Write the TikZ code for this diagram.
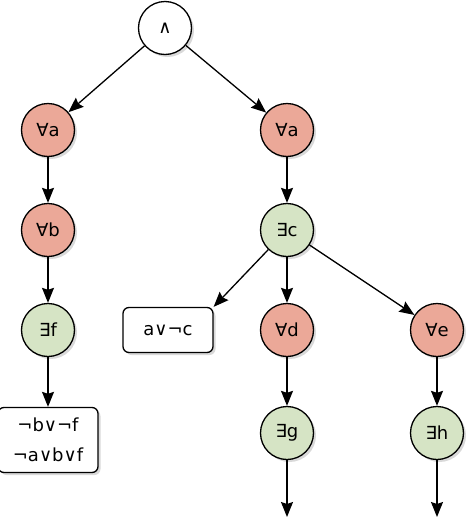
\documentclass[tikz,border=0pt]{standalone}
\usepackage{fontspec}
\setmainfont{DejaVu Sans}
\usetikzlibrary{arrows.meta,shadows}
\definecolor{redfill}{HTML}{EBA898}
\definecolor{greenfill}{HTML}{D6E4C5}
\tikzset{
  circ/.style={circle, draw=black, line width=1.3pt, minimum size=53pt, inner sep=0pt, font=\fontsize{18}{20}\selectfont,
    drop shadow={shadow xshift=2.5pt, shadow yshift=-2.5pt, opacity=0.3}},
  rnode/.style={circ, fill=redfill},
  gnode/.style={circ, fill=greenfill},
  wnode/.style={circ, fill=white},
  boxn/.style={rectangle, rounded corners=6pt, draw=black, line width=1.3pt, fill=white, font=\fontsize{18}{20}\selectfont,
    align=center, drop shadow={shadow xshift=2.5pt, shadow yshift=-2.5pt, opacity=0.3}},
  conn/.style={line width=1.3pt, -{Stealth[length=15pt,width=12pt,inset=2pt]}}
}
\begin{document}
\begin{tikzpicture}[x=1pt,y=-1pt]
\useasboundingbox (0,0) rectangle (474,517);
\node[wnode] (and) at (165,28) {∧};
\node[rnode] (a1) at (48,130) {∀a};
\node[rnode] (a2) at (287,130) {∀a};
\node[rnode] (b) at (48,230) {∀b};
\node[gnode] (c) at (287,230) {∃c};
\node[gnode] (f) at (48,330) {∃f};
\node[boxn, minimum width=90pt, minimum height=45pt] (box1) at (168,330) {a∨¬c};
\node[rnode] (d) at (287,330) {∀d};
\node[rnode] (e) at (437,330) {∀e};
\node[boxn, minimum width=100pt, minimum height=65pt] (box2) at (48,440) {¬b∨¬f\\[10pt]¬a∨b∨f};
\node[gnode] (g) at (287,433) {∃g};
\node[gnode] (h) at (437,433) {∃h};
\coordinate (gend) at (287,517);
\coordinate (hend) at (437,517);
\draw[conn] (and) -- (a1);
\draw[conn] (and) -- (a2);
\draw[conn] (a1) -- (b);
\draw[conn] (b) -- (f);
\draw[conn] (f) -- (box2);
\draw[conn] (a2) -- (c);
\draw[conn] (c) -- (box1.north east);
\draw[conn] (c) -- (d);
\draw[conn] (c) -- (e);
\draw[conn] (d) -- (g);
\draw[conn] (e) -- (h);
\draw[conn] (g) -- (gend);
\draw[conn] (h) -- (hend);
\end{tikzpicture}
\end{document}
